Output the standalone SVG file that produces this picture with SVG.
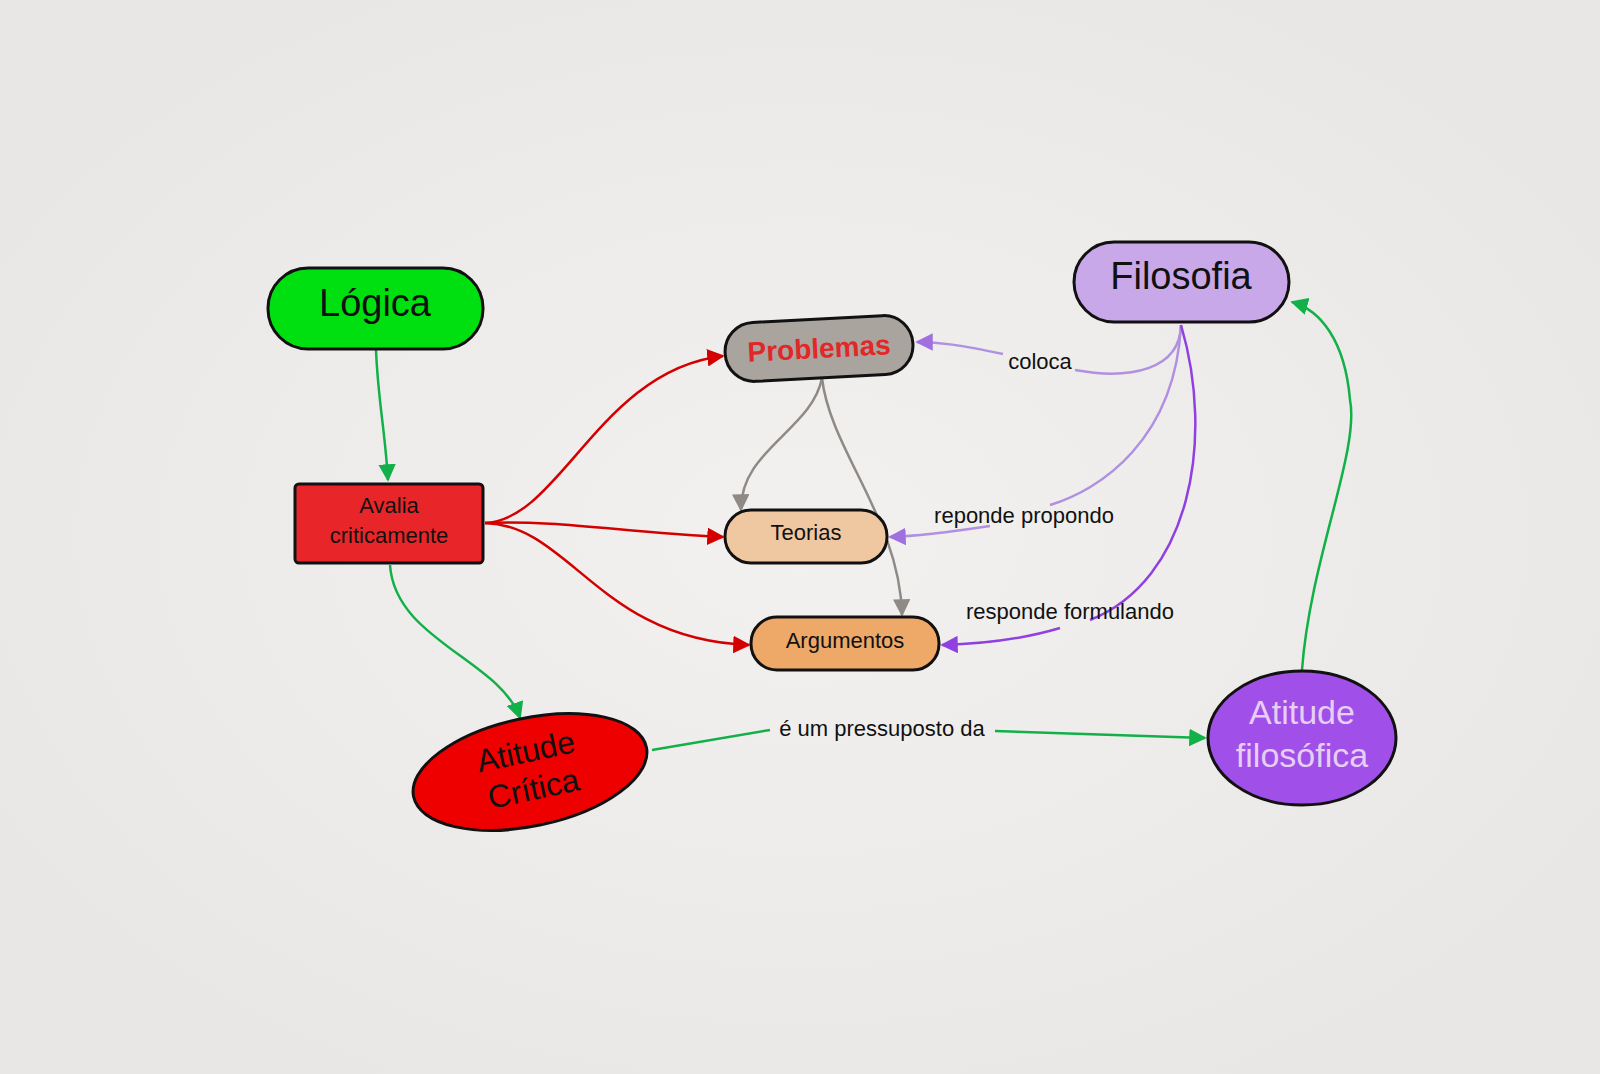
<svg xmlns="http://www.w3.org/2000/svg" width="1600" height="1074" viewBox="0 0 1600 1074">
<defs>
<radialGradient id="bg" cx="50%" cy="50%" r="60%"><stop offset="0" stop-color="#f2f1ef"/><stop offset="1" stop-color="#e9e7e5"/></radialGradient>
<marker id="mg" viewBox="0 0 10 10" refX="9" refY="5" markerWidth="7" markerHeight="7" orient="auto"><path d="M0,0L10,5L0,10z" fill="#12b048"/></marker>
<marker id="mr" viewBox="0 0 10 10" refX="9" refY="5" markerWidth="7" markerHeight="7" orient="auto"><path d="M0,0L10,5L0,10z" fill="#d40000"/></marker>
<marker id="mgr" viewBox="0 0 10 10" refX="9" refY="5" markerWidth="7" markerHeight="7" orient="auto"><path d="M0,0L10,5L0,10z" fill="#8f8a86"/></marker>
<marker id="mp" viewBox="0 0 10 10" refX="9" refY="5" markerWidth="7" markerHeight="7" orient="auto"><path d="M0,0L10,5L0,10z" fill="#a070e0"/></marker>
<marker id="mp2" viewBox="0 0 10 10" refX="9" refY="5" markerWidth="7" markerHeight="7" orient="auto"><path d="M0,0L10,5L0,10z" fill="#9040e0"/></marker>
</defs>
<style>
.n{stroke:#111;stroke-width:3}
.t{font-family:"Liberation Sans",Arial,sans-serif;text-anchor:middle;fill:#111}
.e{fill:none;stroke-width:2.5}
.l{font-family:"Liberation Sans",Arial,sans-serif;font-size:22px;fill:#111;text-anchor:middle}
</style>
<rect width="1600" height="1074" fill="url(#bg)"/>
<g id="connectors">
<path class="e" stroke="#12b048" d="M376,350 C378,400 385,430 388,480" marker-end="url(#mg)"/>
<path class="e" stroke="#12b048" d="M390,565 C395,640 500,660 520,718" marker-end="url(#mg)"/>
<path class="e" stroke="#12b048" d="M652,750 L770,730"/>
<path class="e" stroke="#12b048" d="M995,731 L1205,738" marker-end="url(#mg)"/>
<path class="e" stroke="#12b048" d="M1302,670 C1310,560 1360,450 1350,400 C1345,340 1320,310 1292,302" marker-end="url(#mg)"/>
<path class="e" stroke="#d40000" d="M485,523 C560,520 600,370 723,356" marker-end="url(#mr)"/>
<path class="e" stroke="#d40000" d="M485,523 C560,520 620,532 723,537" marker-end="url(#mr)"/>
<path class="e" stroke="#d40000" d="M485,523 C570,525 600,640 749,645" marker-end="url(#mr)"/>
<path class="e" stroke="#8f8a86" d="M822,378 C812,430 740,450 741,510" marker-end="url(#mgr)"/>
<path class="e" stroke="#8f8a86" d="M822,378 C830,450 900,520 902,615" marker-end="url(#mgr)"/>
<path class="e" stroke="#b090e0" d="M1181,325 C1180,370 1130,380 1075,370"/>
<path class="e" stroke="#b090e0" d="M1003,354 C960,345 940,342 917,342" marker-end="url(#mp)"/>
<path class="e" stroke="#b090e0" d="M1181,325 C1175,440 1100,490 1050,505"/>
<path class="e" stroke="#b090e0" d="M990,526 C950,532 920,536 890,537" marker-end="url(#mp)"/>
<path class="e" stroke="#9040e0" d="M1181,325 C1215,440 1190,580 1090,620"/>
<path class="e" stroke="#9040e0" d="M1060,628 C1020,640 980,644 942,645" marker-end="url(#mp2)"/>
<text class="l" x="1040" y="369">coloca</text>
<text class="l" x="1024" y="523">reponde propondo</text>
<text class="l" x="1070" y="619">responde formulando</text>
<text class="l" x="882" y="736">é um pressuposto da</text>
</g>
<g id="logica"><rect class="n" x="268" y="268" width="215" height="81" rx="40" fill="#00e010"/><text class="t" x="375" y="316" font-size="38">Lógica</text></g>
<g id="avalia"><rect class="n" x="295" y="484" width="188" height="79" rx="4" fill="#e8262a"/><text class="t" x="389" y="513" font-size="22">Avalia</text><text class="t" x="389" y="543" font-size="22">criticamente</text></g>
<g id="problemas" transform="rotate(-3 819 348)"><rect class="n" x="725" y="319" width="188" height="59" rx="29" fill="#aaa49f"/><text class="t" x="819" y="358" font-size="28" font-weight="bold" style="fill:#e02828">Problemas</text></g>
<g id="teorias"><rect class="n" x="725" y="510" width="162" height="53" rx="26" fill="#efc7a0"/><text class="t" x="806" y="540" font-size="22">Teorias</text></g>
<g id="argumentos"><rect class="n" x="751" y="617" width="188" height="53" rx="26" fill="#eea868"/><text class="t" x="845" y="648" font-size="22">Argumentos</text></g>
<g id="filosofia"><rect class="n" x="1074" y="242" width="215" height="80" rx="40" fill="#c8a8e8"/><text class="t" x="1181" y="289" font-size="38">Filosofia</text></g>
<g id="atitude-critica" transform="rotate(-12 530 772)"><ellipse class="n" cx="530" cy="772" rx="119" ry="54" fill="#ee0000"/><text class="t" x="530" y="762" font-size="32">Atitude</text><text class="t" x="530" y="800" font-size="32">Crítica</text></g>
<g id="atitude-filosofica"><ellipse class="n" cx="1302" cy="738" rx="94" ry="67" fill="#a050e8"/><text class="t" x="1302" y="724" font-size="34" style="fill:#e6cef4">Atitude</text><text class="t" x="1302" y="767" font-size="34" style="fill:#e6cef4">filosófica</text></g>
</svg>
